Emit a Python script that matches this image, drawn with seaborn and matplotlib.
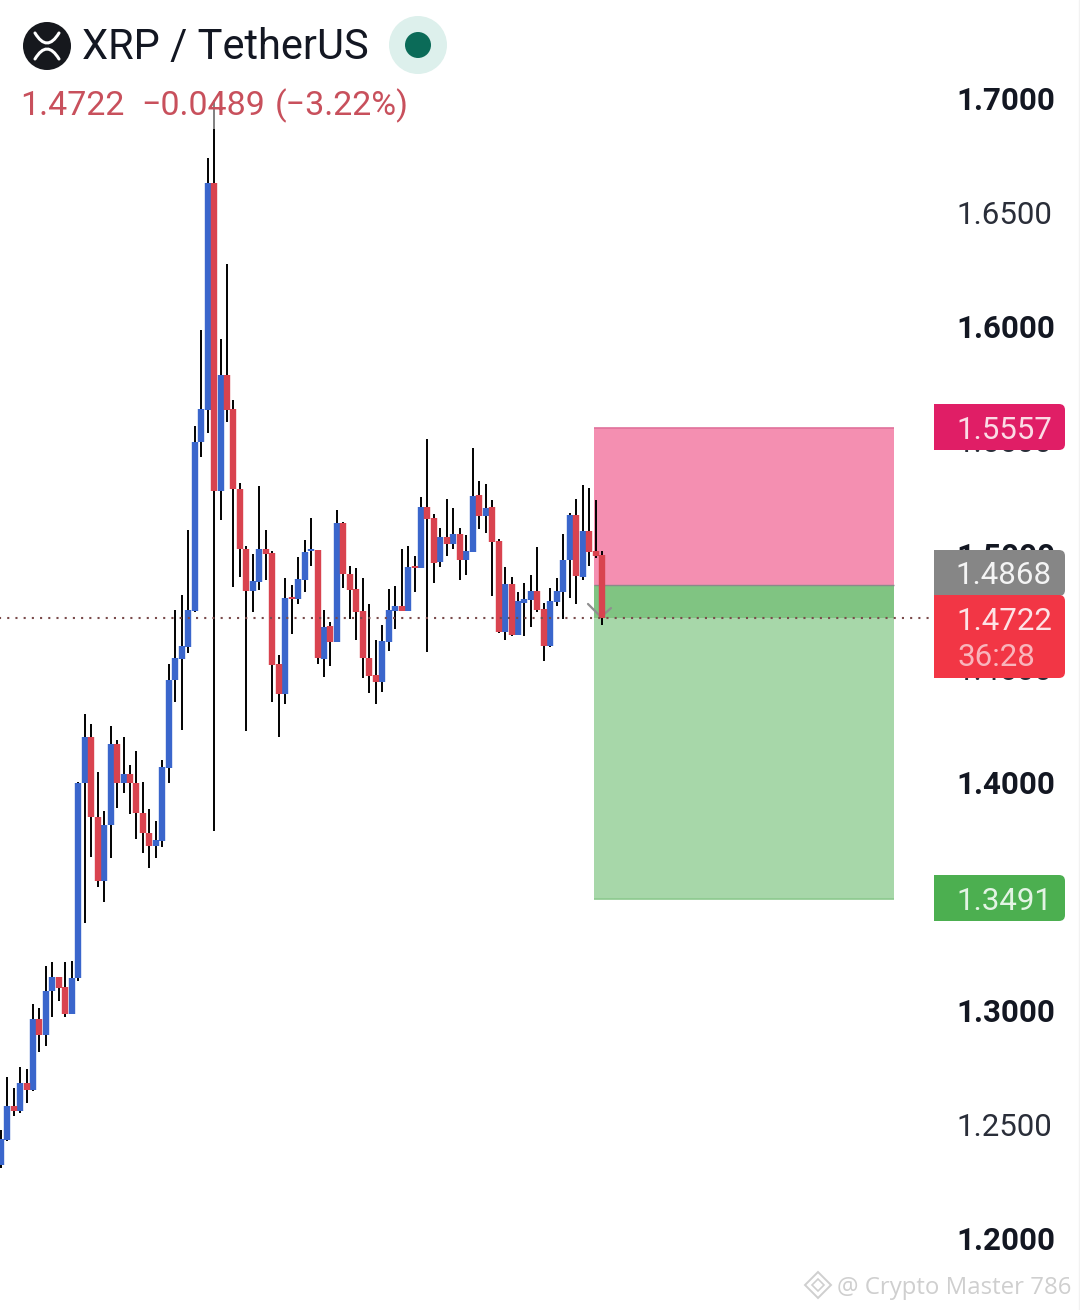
import matplotlib
matplotlib.use("Agg")
import matplotlib.pyplot as plt
import numpy as np
import pandas as pd
import seaborn as sns
from matplotlib.patches import Circle, FancyBboxPatch, PathPatch, Polygon, Rectangle
from matplotlib.path import Path

opens = [1.2324, 1.2434, 1.2583, 1.2561, 1.2684, 1.2653, 1.2965, 1.2894, 1.3087, 1.3149,
         1.3105, 1.2987, 1.3145, 1.4000, 1.4202, 1.3851, 1.3570, 1.3816, 1.4171, 1.4000,
         1.4039, 1.4000, 1.3868, 1.3780, 1.3723, 1.3746, 1.4066, 1.4452, 1.4544, 1.4596,
         1.4754, 1.5495, 1.5636, 1.6631, 1.5280, 1.5789, 1.5640, 1.5289, 1.5026, 1.4842,
         1.4881, 1.5026, 1.5008, 1.4522, 1.4390, 1.4816, 1.4807, 1.4890, 1.5017, 1.5022,
         1.4544, 1.4688, 1.4618, 1.5140, 1.4916, 1.4851, 1.4754, 1.4548, 1.4473, 1.4443,
         1.4618, 1.4754, 1.4776, 1.4754, 1.4952, 1.4943, 1.5210, 1.5162, 1.4969, 1.5079,
         1.5048, 1.5092, 1.4978, 1.5013, 1.5263, 1.5171, 1.5210, 1.5061, 1.4662, 1.4873,
         1.4649, 1.4789, 1.4802, 1.4842, 1.4763, 1.4601, 1.4794, 1.4838, 1.4978, 1.5175,
         1.4903, 1.5105, 1.5017, 1.4999]
highs = [1.2478, 1.2710, 1.2662, 1.2754, 1.2745, 1.3030, 1.3013, 1.3197, 1.3215, 1.3149,
         1.3215, 1.3219, 1.4004, 1.4302, 1.4259, 1.4048, 1.3877, 1.4250, 1.4188, 1.4202,
         1.4079, 1.4140, 1.4004, 1.3886, 1.3833, 1.4101, 1.4522, 1.4759, 1.4824, 1.5109,
         1.5566, 1.5987, 1.6741, 1.6995, 1.5947, 1.6276, 1.5680, 1.5316, 1.5039, 1.5004,
         1.5302, 1.5109, 1.5017, 1.4561, 1.4899, 1.4868, 1.4991, 1.5066, 1.5162, 1.5022,
         1.4759, 1.4706, 1.5197, 1.5144, 1.4952, 1.4943, 1.4899, 1.4785, 1.4627, 1.4693,
         1.4851, 1.4864, 1.5026, 1.5039, 1.4995, 1.5254, 1.5509, 1.5180, 1.5118, 1.5245,
         1.5206, 1.5118, 1.5087, 1.5469, 1.5324, 1.5311, 1.5241, 1.5070, 1.4947, 1.4903,
         1.4838, 1.4877, 1.4912, 1.5035, 1.4789, 1.4855, 1.4899, 1.5092, 1.5184, 1.5245,
         1.5307, 1.5294, 1.5241, 1.5017]
lows = [1.2311, 1.2430, 1.2539, 1.2552, 1.2596, 1.2649, 1.2820, 1.2846, 1.2973, 1.3044,
        1.2973, 1.2987, 1.3131, 1.3386, 1.3675, 1.3544, 1.3478, 1.3671, 1.3890, 1.3956,
        1.3864, 1.3754, 1.3693, 1.3627, 1.3671, 1.3719, 1.4000, 1.4355, 1.4232, 1.4570,
        1.4750, 1.5430, 1.5535, 1.3789, 1.5153, 1.5583, 1.4859, 1.4903, 1.4228, 1.4750,
        1.4846, 1.4890, 1.4355, 1.4202, 1.4346, 1.4653, 1.4785, 1.4838, 1.4952, 1.4522,
        1.4465, 1.4513, 1.4618, 1.4855, 1.4719, 1.4627, 1.4460, 1.4395, 1.4346, 1.4399,
        1.4579, 1.4675, 1.4754, 1.4754, 1.4838, 1.4943, 1.4574, 1.4877, 1.4947, 1.4995,
        1.5026, 1.4890, 1.4912, 1.5013, 1.5114, 1.5096, 1.4820, 1.4658, 1.4627, 1.4645,
        1.4649, 1.4645, 1.4684, 1.4750, 1.4535, 1.4596, 1.4776, 1.4719, 1.4811, 1.4785,
        1.4890, 1.4952, 1.4987, 1.4693]
closes = [1.2438, 1.2583, 1.2561, 1.2684, 1.2653, 1.2965, 1.2894, 1.3087, 1.3149, 1.3101,
          1.2987, 1.3145, 1.4000, 1.4202, 1.3851, 1.3570, 1.3816, 1.4171, 1.4000, 1.4039,
          1.4000, 1.3868, 1.3780, 1.3723, 1.3750, 1.4070, 1.4452, 1.4548, 1.4601, 1.4759,
          1.5495, 1.5640, 1.6631, 1.5280, 1.5789, 1.5636, 1.5289, 1.5026, 1.4842, 1.4886,
          1.5026, 1.5004, 1.4517, 1.4390, 1.4811, 1.4807, 1.4895, 1.5013, 1.5026, 1.4548,
          1.4684, 1.4618, 1.5140, 1.4916, 1.4846, 1.4750, 1.4548, 1.4469, 1.4443, 1.4623,
          1.4759, 1.4776, 1.4754, 1.4947, 1.4943, 1.5210, 1.5158, 1.4965, 1.5079, 1.5048,
          1.5092, 1.4978, 1.5017, 1.5259, 1.5171, 1.5206, 1.5057, 1.4662, 1.4873, 1.4649,
          1.4798, 1.4807, 1.4842, 1.4759, 1.4601, 1.4798, 1.4842, 1.4978, 1.5175, 1.4908,
          1.5105, 1.5013, 1.4995, 1.4722]

tick_values = [1.70, 1.65, 1.60, 1.55, 1.50, 1.45, 1.40, 1.35, 1.30, 1.25, 1.20]
bold_ticks = [1.70, 1.60, 1.50, 1.40, 1.30, 1.20]

stop_price = 1.5557
entry_price = 1.4868
last_price = 1.4722
target_price = 1.3491

BLUE = "#3A66CC"
RED = "#D9434F"
PX_PER_CANDLE = 6.466
PRICE_PER_PX = 0.0004386


def px_to_candle(px):
    return (px - 0.7) / PX_PER_CANDLE


sns.set_theme(style="white")
plt.rcParams["font.family"] = ["Roboto", "DejaVu Sans"]

df = pd.DataFrame({"candle": range(len(opens)), "open": opens, "high": highs, "low": lows, "close": closes})
df["side"] = np.where(df["close"] >= df["open"], "up", "down")
wicks = df.melt(id_vars="candle", value_vars=["high", "low"], value_name="price")
bodies = df.melt(id_vars=["candle", "side"], value_vars=["open", "close"], value_name="price")

fig = plt.figure(figsize=(10.8, 13.1), dpi=100)
ax = fig.add_axes([0, 0, 1, 1])

# position tool
box_l, box_r = px_to_candle(594), px_to_candle(894)
ax.fill_between([box_l, box_r], entry_price, stop_price, color="#F48FB1", lw=0, zorder=1)
ax.fill_between([box_l, box_r], target_price, entry_price, color="#A7D7A9", lw=0, zorder=1)
ax.fill_between([box_l, box_r], last_price, entry_price, color="#80C482", lw=0, zorder=1.1)
ax.hlines(stop_price, box_l, box_r, color="#E0719B", lw=1.2, zorder=1.2)
ax.hlines(entry_price, box_l, box_r, color="#8A8A8A", lw=1.0, zorder=1.2)
ax.hlines(target_price, box_l, box_r, color="#8CC98E", lw=1.2, zorder=1.2)

# order arrow under the last candle
ax.plot([px_to_candle(588), px_to_candle(601), px_to_candle(611)], [1.4785, 1.4728, 1.4767],
        color="#8F8F8F", lw=1.6, zorder=1.5)

sns.lineplot(data=wicks, x="candle", y="price", units="candle", estimator=None, color="black",
             linewidth=1.4, solid_capstyle="butt", legend=False, ax=ax, zorder=2)
sns.lineplot(data=bodies, x="candle", y="price", units="candle", hue="side", estimator=None,
             palette={"up": BLUE, "down": RED}, linewidth=4.6, solid_capstyle="butt",
             legend=False, ax=ax, zorder=3)

ax.hlines(last_price, -1, px_to_candle(931), color="#7A4A4A", lw=1.5,
          linestyles=(0, (1.0, 2.94)), zorder=4)

for v in tick_values:
    bold = v in bold_ticks
    ax.text(1055.5 / 1080 if bold else 1052.5 / 1080, v + PRICE_PER_PX / 2, f"{v:.4f}", transform=ax.get_yaxis_transform(),
            ha="right", va="center_baseline", fontsize=22.5,
            fontweight="bold" if bold else "normal", color="#131722" if bold else "#2A2E39", zorder=5)

ax.set_xlim(px_to_candle(0), px_to_candle(1080))
ax.set_ylim(1.7434 - 1310 * PRICE_PER_PX, 1.7434)
ax.axis("off")

# overlay in image pixels for header, price tags and watermark
top = fig.add_axes([0, 0, 1, 1])
top.set_xlim(0, 1080)
top.set_ylim(1310, 0)
top.axis("off")
top.patch.set_alpha(0)

top.add_patch(Rectangle((0, 85), 460, 44, color="white", alpha=0.5, lw=0))

top.add_patch(Circle((47, 46), 24, color="#16181D", lw=0))
for y_end, y_mid in [(33, 53), (59, 39)]:
    verts = [(35, y_end), (47, y_mid), (59, y_end)]
    top.add_patch(PathPatch(Path(verts, [Path.MOVETO, Path.CURVE3, Path.CURVE3]), fc="none", ec="white",
                            lw=2.2, capstyle="round"))
top.text(82, 59, "XRP / TetherUS", fontsize=30, color="#131722", ha="left", va="baseline")
top.add_patch(Circle((418, 45), 29, color="#DDF0EC", lw=0))
top.add_patch(Circle((418, 45), 13, color="#0B6B58", lw=0))

SUB_RED = "#C8505C"
top.text(20.5, 115, "1.4722", fontsize=24.5, color=SUB_RED, va="baseline")
top.text(141, 115, "\u22120.0489", fontsize=24.5, color=SUB_RED, va="baseline")
top.text(275, 115, "(\u22123.22%)", fontsize=24.5, color=SUB_RED, va="baseline")


def price_tag(y0, y1, color):
    top.add_patch(FancyBboxPatch((934, y0), 131, y1 - y0, boxstyle="round,pad=0,rounding_size=6", fc=color, ec="none"))
    top.add_patch(Rectangle((934, y0), 30, y1 - y0, fc=color, ec="none"))


price_tag(404, 450, "#E01E66")
price_tag(875, 921, "#4CAF50")
price_tag(550, 596, "#868686")
price_tag(595, 678, "#F23645")

tag_font = dict(fontsize=22.5, ha="right", va="center_baseline")
top.text(1052, 427.5, f"{stop_price:.4f}", color="#FBDCE6", **tag_font)
top.text(1052, 898.5, f"{target_price:.4f}", color="#E3F4E4", **tag_font)
top.text(1052, 573, f"{entry_price:.4f}", color="#F4F4F4", **tag_font)
top.text(1052, 618.5, f"{last_price:.4f}", color="#FDE3E5", **tag_font)
top.text(957.5, 655, "36:28", color="#F9B5BC", fontsize=22.5, ha="left", va="center_baseline")

# watermark
wm = "#CFCFCF"
top.add_patch(Polygon([(818, 1272), (831, 1285), (818, 1298), (805, 1285)], closed=True, fc="none", ec=wm, lw=1.4))
top.add_patch(Polygon([(818, 1279), (824, 1285), (818, 1291), (812, 1285)], closed=True, fc="none", ec=wm, lw=1.2))
top.text(837, 1294, "@ Crypto Master 786", fontsize=17.3, color=wm, family=["Open Sans", "DejaVu Sans"], va="baseline")
top.plot([1078.5, 1078.5], [0, 1310], color="#F2F2F2", lw=1)

fig.savefig("out.png", dpi=100)
